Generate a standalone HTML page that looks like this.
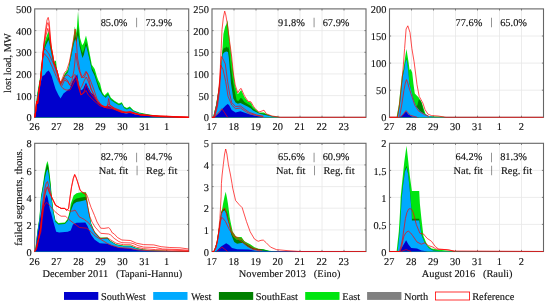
<!DOCTYPE html>
<html lang="en">
<head>
<meta charset="utf-8">
<title>Lost load and failed segments</title>
<style>
html,body{margin:0;padding:0;background:#fff;}
body{width:550px;height:305px;overflow:hidden;}
svg{display:block;}
svg text{text-rendering:geometricPrecision;font-family:"Liberation Serif","Times New Roman",serif;font-size:10.4px;fill:#111;stroke:#111;stroke-width:0.13px;}
</style>
</head>
<body>
<svg width="550" height="305" viewBox="0 0 550 305">
<rect x="0" y="0" width="550" height="305" fill="#ffffff"/>
<g id="plot1">
<path d="M56.7 8.9V117.3M78.7 8.9V117.3M100.7 8.9V117.3M122.7 8.9V117.3M144.7 8.9V117.3M166.7 8.9V117.3M34.7 95.6H188.7M34.7 73.9H188.7M34.7 52.3H188.7M34.7 30.6H188.7" stroke="#e7e7e7" stroke-width="0.8" fill="none"/>
<rect x="34.7" y="8.9" width="154.0" height="108.4" fill="none" stroke="#666666" stroke-width="1.1"/>
<path d="M56.7 117.3v-1.6M56.7 8.9v1.6M78.7 117.3v-1.6M78.7 8.9v1.6M100.7 117.3v-1.6M100.7 8.9v1.6M122.7 117.3v-1.6M122.7 8.9v1.6M144.7 117.3v-1.6M144.7 8.9v1.6M166.7 117.3v-1.6M166.7 8.9v1.6M34.7 95.6h1.6M188.7 95.6h-1.6M34.7 73.9h1.6M188.7 73.9h-1.6M34.7 52.3h1.6M188.7 52.3h-1.6M34.7 30.6h1.6M188.7 30.6h-1.6" stroke="#666666" stroke-width="0.8" fill="none"/>
<polygon points="34.7,117.3 35.5,110.0 37.0,95.0 40.2,76.4 40.9,66.2 42.0,62.0 43.8,45.8 46.0,38.0 48.5,31.0 49.5,36.0 51.1,45.8 54.0,61.8 55.9,60.4 56.9,69.0 60.5,83.0 64.9,73.5 68.1,69.0 70.7,54.5 73.6,38.0 74.8,26.5 76.1,33.0 76.9,28.0 78.0,11.5 79.2,28.0 80.1,38.0 82.2,45.2 83.8,43.0 86.0,35.5 87.5,42.0 89.6,53.0 91.8,64.7 94.7,69.0 96.9,76.4 98.4,80.4 100.0,83.3 102.2,92.0 104.4,95.6 108.0,92.0 110.9,97.8 114.5,100.7 118.9,103.6 121.8,102.2 124.0,106.5 126.9,108.0 129.8,106.5 133.5,110.2 139.3,112.4 146.5,114.1 155.3,115.6 165.5,116.4 180.0,117.0 188.7,117.3 188.7,117.3 34.7,117.3" fill="#00E510"/>
<polygon points="34.7,117.3 35.5,111.2 35.8,108.9 37.0,97.7 37.5,93.9 40.2,78.4 40.5,75.7 40.9,71.0 41.5,66.4 42.0,63.6 43.8,49.6 46.0,42.3 48.5,36.6 49.5,41.0 51.1,49.6 53.5,62.1 54.0,63.5 55.5,64.0 55.9,65.0 56.9,71.2 60.5,84.2 64.9,75.0 68.1,70.9 70.7,57.3 73.6,42.3 74.8,35.0 75.1,34.8 76.1,38.0 76.5,37.6 76.9,35.5 78.0,26.1 79.2,37.8 79.5,40.4 80.1,44.5 82.2,52.6 82.4,53.0 83.8,50.4 86.0,41.7 87.5,47.6 89.6,57.3 91.8,68.0 94.7,73.3 96.9,80.5 98.4,84.8 99.1,86.5 100.0,88.0 102.2,93.5 102.7,94.3 104.4,96.3 105.6,96.5 108.0,93.9 110.9,99.2 114.5,101.8 118.9,104.7 121.8,103.3 124.0,107.4 126.9,108.9 129.8,107.6 133.5,110.9 139.3,113.0 146.5,114.5 155.3,115.8 165.5,116.6 180.0,117.0 188.7,117.3 188.7,117.3 34.7,117.3" fill="#008000"/>
<polygon points="34.7,117.3 35.8,110.0 37.5,95.0 40.5,78.0 41.5,68.0 43.8,52.0 46.0,45.0 48.5,40.0 49.5,44.0 51.1,52.0 53.5,64.0 55.5,66.0 56.9,72.5 60.5,85.0 64.9,76.0 68.1,72.0 70.7,59.0 73.6,45.0 75.1,39.0 76.5,42.0 78.0,35.0 79.5,46.0 82.4,58.0 83.8,55.0 86.0,45.5 87.5,51.0 89.6,60.0 91.8,70.0 94.7,76.0 96.9,83.0 99.1,89.5 102.7,95.2 105.6,97.8 108.0,95.0 110.9,100.0 114.5,102.5 118.9,105.3 121.8,104.0 124.0,108.0 126.9,109.5 129.8,108.2 133.5,111.3 139.3,113.3 146.5,114.8 155.3,116.0 165.5,116.7 188.7,117.3 188.7,117.3 34.7,117.3" fill="#00AAFF"/>
<polygon points="34.7,117.3 35.1,116.7 38.0,94.9 40.2,84.7 42.4,76.0 44.5,75.0 46.5,72.0 48.6,70.5 50.0,72.5 51.8,76.4 53.3,81.8 55.5,89.1 58.4,94.9 60.5,98.5 63.5,93.5 66.4,91.3 70.0,88.4 72.2,81.8 75.1,77.5 77.3,74.2 78.7,84.7 80.9,90.5 83.1,89.1 86.0,82.5 88.2,87.6 91.1,92.7 94.0,94.9 97.6,102.2 100.0,104.0 104.4,107.5 108.7,106.0 114.5,109.5 121.8,112.4 126.2,113.8 130.5,112.4 134.9,114.5 143.6,115.6 158.2,116.7 188.7,117.3 188.7,117.3 34.7,117.3" fill="#0000CD"/>
<polyline points="34.7,117.3 35.6,112.0 36.7,101.0 37.5,104.0 38.8,92.0 40.9,77.0 41.9,66.5 43.6,46.0 45.5,30.0 47.0,20.0 48.2,17.4 49.2,22.0 50.0,32.0 51.1,46.0 52.5,54.0 54.0,62.5 55.2,66.0 57.0,70.5 59.1,79.3 60.5,82.5 62.5,78.0 64.6,72.5 66.6,70.5 69.4,62.0 71.7,50.0 73.9,37.0 75.2,29.0 76.3,40.0 77.5,58.0 80.1,71.6 82.4,77.5 84.2,77.5 86.5,72.1 87.8,74.4 89.6,82.5 91.1,89.1 94.0,95.0 96.9,100.7 100.0,104.5 104.0,107.5 107.5,106.0 108.7,98.5 109.8,105.0 114.5,108.5 121.8,111.5 126.2,113.0 130.5,111.8 134.9,113.8 143.6,115.2 158.2,116.5 188.7,117.3" fill="none" stroke="#FF0000" stroke-width="0.7" stroke-linejoin="round"/>
<polyline points="34.7,117.3 35.6,112.0 36.7,101.0 37.5,104.0 38.8,92.0 40.9,77.0 41.9,66.5 43.7,46.0 45.6,33.0 47.0,25.0 48.0,22.5 49.3,28.0 50.2,38.0 51.2,47.0 52.6,54.5 54.1,63.0 55.3,66.5 57.1,71.0 59.3,80.0 61.0,83.0 64.6,76.2 67.8,74.8 70.5,77.5 72.8,76.6 75.1,74.4 76.5,78.9 77.8,85.0 79.5,90.0 80.9,94.9 83.5,93.5 86.0,90.5 88.2,94.9 94.0,100.7 99.8,105.8 105.6,107.3 108.7,104.0 114.5,109.0 122.0,112.0 130.5,112.2 140.0,114.8 160.0,116.6 188.7,117.3" fill="none" stroke="#FF0000" stroke-width="0.7" stroke-linejoin="round"/>
<polyline points="34.7,117.3 35.6,112.0 36.7,101.0 37.5,104.0 38.8,92.0 40.9,77.0 41.9,66.5 43.8,46.5 45.8,36.0 47.8,28.3 49.4,34.0 50.4,42.0 51.3,48.0 52.7,55.0 54.2,63.5 55.4,67.0 57.2,71.5 59.5,80.7 61.5,83.5 64.6,78.0 67.8,80.7 69.6,85.0 72.0,80.0 74.0,70.0 75.8,53.1 76.8,60.0 77.3,63.3 78.7,69.1 81.6,77.8 84.0,75.0 86.0,71.3 88.2,74.9 91.1,82.2 94.0,90.0 97.0,99.0 101.3,105.1 106.0,107.0 110.0,106.0 118.0,109.5 126.0,112.5 130.0,111.5 140.0,114.5 160.0,116.5 188.7,117.3" fill="none" stroke="#FF0000" stroke-width="0.7" stroke-linejoin="round"/>
<polyline points="34.7,117.3 35.6,112.0 36.7,101.0 37.5,104.0 38.8,92.0 40.9,77.0 41.9,66.5 42.8,54.0 44.0,48.0 46.0,50.0 48.9,53.8 53.3,63.3 56.9,73.5 60.5,84.0 62.0,85.5 64.6,80.0 68.0,82.0 70.5,86.0 73.0,81.0 75.5,76.0 77.5,80.0 79.5,90.0 82.0,86.0 84.5,80.0 86.3,77.0 88.5,82.0 91.5,90.0 95.0,97.0 98.0,102.5 102.0,106.0 106.0,107.6 112.0,108.0 122.0,112.3 130.0,112.3 140.0,114.8 188.7,117.3" fill="none" stroke="#FF0000" stroke-width="0.7" stroke-linejoin="round"/>
<polyline points="34.7,117.3 35.6,112.0 36.7,101.0 37.5,104.0 38.8,92.0 40.9,77.0 41.9,66.5 42.6,58.0 44.2,53.5 48.2,58.2 52.5,67.6 56.2,76.4 61.0,86.0 63.0,88.5 66.0,90.0 70.0,90.0 73.0,84.5 75.0,80.5 77.0,78.5 78.7,84.7 80.9,94.9 84.0,92.0 86.0,84.7 89.6,92.0 95.5,99.3 101.3,105.1 106.0,107.8 112.0,108.6 122.0,112.6 130.0,112.6 140.0,115.0 188.7,117.3" fill="none" stroke="#FF0000" stroke-width="0.7" stroke-linejoin="round"/>
<text x="31.6" y="121.4" text-anchor="end">0</text>
<text x="31.6" y="99.7" text-anchor="end">100</text>
<text x="31.6" y="78.0" text-anchor="end">200</text>
<text x="31.6" y="56.4" text-anchor="end">300</text>
<text x="31.6" y="34.7" text-anchor="end">400</text>
<text x="31.6" y="13.0" text-anchor="end">500</text>
<text x="34.5" y="130.4" text-anchor="middle">26</text>
<text x="56.5" y="130.4" text-anchor="middle">27</text>
<text x="78.5" y="130.4" text-anchor="middle">28</text>
<text x="100.5" y="130.4" text-anchor="middle">29</text>
<text x="122.5" y="130.4" text-anchor="middle">30</text>
<text x="144.5" y="130.4" text-anchor="middle">31</text>
<text x="166.5" y="130.4" text-anchor="middle">1</text>
<text x="114.1" y="25.6" text-anchor="middle">85.0%</text>
<text x="136.7" y="25.1" text-anchor="middle" style="fill:#333;stroke:none">|</text>
<text x="158.8" y="25.6" text-anchor="middle">73.9%</text>
</g>
<g id="plot2">
<path d="M234.0 8.9V117.3M256.0 8.9V117.3M278.0 8.9V117.3M300.0 8.9V117.3M322.0 8.9V117.3M344.0 8.9V117.3M212.0 95.6H366.0M212.0 73.9H366.0M212.0 52.3H366.0M212.0 30.6H366.0" stroke="#e7e7e7" stroke-width="0.8" fill="none"/>
<rect x="212.0" y="8.9" width="154.0" height="108.4" fill="none" stroke="#666666" stroke-width="1.1"/>
<path d="M234.0 117.3v-1.6M234.0 8.9v1.6M256.0 117.3v-1.6M256.0 8.9v1.6M278.0 117.3v-1.6M278.0 8.9v1.6M300.0 117.3v-1.6M300.0 8.9v1.6M322.0 117.3v-1.6M322.0 8.9v1.6M344.0 117.3v-1.6M344.0 8.9v1.6M212.0 95.6h1.6M366.0 95.6h-1.6M212.0 73.9h1.6M366.0 73.9h-1.6M212.0 52.3h1.6M366.0 52.3h-1.6M212.0 30.6h1.6M366.0 30.6h-1.6" stroke="#666666" stroke-width="0.8" fill="none"/>
<polygon points="212.0,117.3 213.1,117.3 216.0,105.1 218.4,90.5 220.3,76.4 221.6,58.9 222.7,45.0 223.4,34.1 225.1,26.7 226.5,24.0 227.5,20.3 228.7,31.2 230.2,45.7 232.0,61.8 234.0,77.8 235.2,86.2 237.8,94.2 241.2,90.0 244.4,97.0 248.0,101.8 250.9,102.4 253.0,106.8 259.0,112.4 264.0,112.6 266.2,114.0 272.0,116.0 280.7,117.2 366.0,117.3 366.0,117.3 212.0,117.3" fill="#00E510"/>
<polygon points="212.0,117.3 213.2,117.3 216.1,105.3 218.5,90.8 220.4,76.8 221.7,59.5 222.7,50.5 224.0,47.5 225.0,48.5 226.2,46.5 227.2,48.0 228.2,46.5 229.2,50.0 230.3,62.5 232.4,78.0 234.9,92.0 236.7,100.5 238.5,101.0 240.5,98.0 242.0,98.5 244.4,102.0 248.0,104.3 250.9,106.0 253.0,108.7 259.0,113.0 264.0,113.8 272.0,116.3 280.7,117.2 366.0,117.3 366.0,117.3 212.0,117.3" fill="#008000"/>
<polygon points="212.0,117.3 213.3,117.3 216.2,105.5 218.6,91.0 220.5,77.0 221.8,60.0 222.8,54.0 224.5,52.3 226.2,51.5 228.0,52.0 228.8,57.5 230.2,73.5 231.0,83.6 233.3,98.5 235.6,102.5 237.8,103.7 240.5,103.0 244.4,105.0 248.0,106.8 250.9,108.5 253.0,110.5 259.0,113.6 264.0,114.8 272.0,116.6 280.7,117.3 366.0,117.3 366.0,117.3 212.0,117.3" fill="#00AAFF"/>
<polygon points="212.0,117.3 214.0,117.3 216.7,115.3 219.6,112.4 222.5,108.7 225.5,105.8 227.6,104.0 229.0,105.0 231.7,110.0 235.5,112.6 240.5,111.2 244.2,112.6 249.2,114.3 256.7,116.1 263.3,117.3 366.0,117.3 366.0,117.3 212.0,117.3" fill="#0000CD"/>
<polyline points="212.0,117.3 213.8,117.3 216.8,104.5 218.8,90.0 220.1,75.0 220.6,60.0 221.2,48.6 222.0,29.7 223.3,18.0 224.7,11.1 225.8,15.0 227.1,22.5 229.6,41.4 231.6,56.0 233.3,73.0 235.2,85.0 237.8,92.8 240.0,89.0 241.2,88.5 244.4,95.8 248.0,101.3 250.9,101.8 254.5,108.0 258.9,112.0 262.0,111.0 264.0,110.2 266.2,113.8 272.0,116.0 280.7,117.3 366.0,117.3" fill="none" stroke="#FF0000" stroke-width="0.7" stroke-linejoin="round"/>
<polyline points="212.0,117.3 214.2,117.3 217.2,104.0 219.4,85.0 220.6,66.0 221.4,56.5 223.5,60.0 225.3,64.0 227.6,81.5 229.5,93.0 231.7,102.5 235.5,106.5 240.5,106.0 244.2,108.8 249.2,112.3 256.7,115.0 263.3,116.3" fill="none" stroke="#FF0000" stroke-width="0.7" stroke-linejoin="round"/>
<polyline points="212.0,117.3 214.6,117.3 217.5,106.0 219.6,90.0 220.4,75.0 220.8,65.2 223.0,69.5 225.7,81.5 228.0,96.2 231.7,105.0 235.5,108.7 240.5,108.0 244.2,110.5 249.2,113.6 256.7,115.5 263.3,116.7" fill="none" stroke="#FF0000" stroke-width="0.7" stroke-linejoin="round"/>
<polyline points="214.0,117.3 216.7,115.0 219.5,111.5 221.8,108.7 224.5,112.5 227.6,117.3" fill="none" stroke="#FF0000" stroke-width="0.7" stroke-linejoin="round"/>
<text x="208.9" y="121.4" text-anchor="end">0</text>
<text x="208.9" y="99.7" text-anchor="end">50</text>
<text x="208.9" y="78.0" text-anchor="end">100</text>
<text x="208.9" y="56.4" text-anchor="end">150</text>
<text x="208.9" y="34.7" text-anchor="end">200</text>
<text x="208.9" y="13.0" text-anchor="end">250</text>
<text x="211.8" y="130.4" text-anchor="middle">17</text>
<text x="233.8" y="130.4" text-anchor="middle">18</text>
<text x="255.8" y="130.4" text-anchor="middle">19</text>
<text x="277.8" y="130.4" text-anchor="middle">20</text>
<text x="299.8" y="130.4" text-anchor="middle">21</text>
<text x="321.8" y="130.4" text-anchor="middle">22</text>
<text x="343.8" y="130.4" text-anchor="middle">23</text>
<text x="291.4" y="25.6" text-anchor="middle">91.8%</text>
<text x="314.0" y="25.1" text-anchor="middle" style="fill:#333;stroke:none">|</text>
<text x="336.1" y="25.6" text-anchor="middle">67.9%</text>
</g>
<g id="plot3">
<path d="M411.5 8.9V117.3M433.5 8.9V117.3M455.5 8.9V117.3M477.5 8.9V117.3M499.5 8.9V117.3M521.5 8.9V117.3M389.5 90.2H543.5M389.5 63.1H543.5M389.5 36.0H543.5" stroke="#e7e7e7" stroke-width="0.8" fill="none"/>
<rect x="389.5" y="8.9" width="154.0" height="108.4" fill="none" stroke="#666666" stroke-width="1.1"/>
<path d="M411.5 117.3v-1.6M411.5 8.9v1.6M433.5 117.3v-1.6M433.5 8.9v1.6M455.5 117.3v-1.6M455.5 8.9v1.6M477.5 117.3v-1.6M477.5 8.9v1.6M499.5 117.3v-1.6M499.5 8.9v1.6M521.5 117.3v-1.6M521.5 8.9v1.6M389.5 90.2h1.6M543.5 90.2h-1.6M389.5 63.1h1.6M543.5 63.1h-1.6M389.5 36.0h1.6M543.5 36.0h-1.6" stroke="#666666" stroke-width="0.8" fill="none"/>
<polygon points="389.5,117.3 396.6,117.3 398.8,105.1 400.3,90.5 401.8,76.0 403.4,69.1 405.0,58.0 406.5,49.0 407.4,55.0 408.3,60.4 409.6,70.0 410.6,69.0 412.2,72.5 413.4,83.6 414.8,93.5 418.7,97.4 421.7,102.4 423.6,108.3 425.6,114.2 428.6,116.2 434.5,116.5 443.2,116.8 446.0,117.3 543.5,117.3 543.5,117.3 389.5,117.3" fill="#00E510"/>
<polygon points="389.5,117.3 397.5,117.3 399.6,105.3 401.1,91.0 402.6,76.5 404.0,69.8 405.3,62.5 406.5,58.0 407.4,63.0 408.3,71.3 409.3,82.5 410.5,87.3 413.4,99.0 416.3,106.2 417.5,105.0 418.7,99.5 420.5,100.5 421.7,103.5 423.0,108.5 424.3,113.5 428.6,116.0 434.5,117.0 543.5,117.3 543.5,117.3 389.5,117.3" fill="#008000"/>
<polygon points="389.5,117.3 397.6,117.3 399.7,105.5 401.2,91.2 402.7,77.0 404.1,70.5 405.3,63.0 406.5,58.9 407.4,64.0 408.3,72.0 409.4,83.6 410.5,87.6 413.4,99.3 416.3,106.5 419.9,110.9 424.3,113.8 428.6,116.0 434.5,117.0 543.5,117.3 543.5,117.3 389.5,117.3" fill="#00AAFF"/>
<polygon points="389.5,117.3 399.5,117.3 403.2,114.5 406.1,111.6 408.3,114.5 411.9,116.4 420.0,117.3 543.5,117.3 543.5,117.3 389.5,117.3" fill="#0000CD"/>
<polyline points="389.5,117.3 397.4,117.3 399.5,104.5 401.0,90.0 402.5,75.0 403.6,62.0 404.6,48.6 406.1,29.0 407.8,25.8 410.0,32.6 411.9,48.6 414.1,61.8 417.0,84.7 419.2,96.4 422.8,102.9 425.0,109.5 427.9,114.1 431.5,115.6 438.0,116.0 446.0,117.3 543.5,117.3" fill="none" stroke="#FF0000" stroke-width="0.7" stroke-linejoin="round"/>
<polyline points="389.5,117.3 399.5,117.3 401.7,105.1 403.9,90.5 405.3,83.0 406.5,79.6 407.8,83.0 409.0,87.6 411.9,96.4 414.8,105.1 418.5,110.9 424.3,114.5 429.0,116.5" fill="none" stroke="#FF0000" stroke-width="0.7" stroke-linejoin="round"/>
<polyline points="401.0,117.3 403.5,114.0 406.1,110.6 408.3,113.3 410.5,115.3 417.0,117.3" fill="none" stroke="#FF0000" stroke-width="0.7" stroke-linejoin="round"/>
<text x="386.4" y="121.4" text-anchor="end">0</text>
<text x="386.4" y="94.3" text-anchor="end">50</text>
<text x="386.4" y="67.2" text-anchor="end">100</text>
<text x="386.4" y="40.1" text-anchor="end">150</text>
<text x="386.4" y="13.0" text-anchor="end">200</text>
<text x="389.3" y="130.4" text-anchor="middle">27</text>
<text x="411.3" y="130.4" text-anchor="middle">28</text>
<text x="433.3" y="130.4" text-anchor="middle">29</text>
<text x="455.3" y="130.4" text-anchor="middle">30</text>
<text x="477.3" y="130.4" text-anchor="middle">31</text>
<text x="499.3" y="130.4" text-anchor="middle">1</text>
<text x="521.3" y="130.4" text-anchor="middle">2</text>
<text x="468.9" y="25.6" text-anchor="middle">77.6%</text>
<text x="491.5" y="25.1" text-anchor="middle" style="fill:#333;stroke:none">|</text>
<text x="513.6" y="25.6" text-anchor="middle">65.0%</text>
</g>
<g id="plot4">
<path d="M56.7 143.3V251.5M78.7 143.3V251.5M100.7 143.3V251.5M122.7 143.3V251.5M144.7 143.3V251.5M166.7 143.3V251.5M34.7 224.4H188.7M34.7 197.4H188.7M34.7 170.4H188.7" stroke="#e7e7e7" stroke-width="0.8" fill="none"/>
<rect x="34.7" y="143.3" width="154.0" height="108.2" fill="none" stroke="#666666" stroke-width="1.1"/>
<path d="M56.7 251.5v-1.6M56.7 143.3v1.6M78.7 251.5v-1.6M78.7 143.3v1.6M100.7 251.5v-1.6M100.7 143.3v1.6M122.7 251.5v-1.6M122.7 143.3v1.6M144.7 251.5v-1.6M144.7 143.3v1.6M166.7 251.5v-1.6M166.7 143.3v1.6M34.7 224.4h1.6M188.7 224.4h-1.6M34.7 197.4h1.6M188.7 197.4h-1.6M34.7 170.4h1.6M188.7 170.4h-1.6" stroke="#666666" stroke-width="0.8" fill="none"/>
<polygon points="34.7,251.5 35.1,251.5 37.3,231.8 39.5,217.3 40.9,196.8 43.1,183.6 44.5,173.5 46.3,164.5 47.5,161.1 48.5,165.0 49.6,173.5 50.7,183.6 51.8,196.8 53.3,210.0 55.5,220.2 58.4,223.1 64.9,222.4 67.8,218.7 70.0,210.0 70.7,204.1 73.6,195.4 76.5,193.2 80.9,192.2 86.0,192.2 86.7,196.8 88.2,207.0 89.5,214.0 91.1,223.1 94.7,231.8 99.8,237.6 107.3,237.6 110.2,240.5 116.0,244.2 123.3,245.6 130.5,245.6 136.4,248.1 143.6,249.6 155.3,250.4 180.0,251.3 188.7,251.5 188.7,251.5 34.7,251.5" fill="#00E510"/>
<polygon points="34.7,251.5 35.2,251.5 37.4,232.0 39.6,217.6 41.0,197.5 43.2,185.0 44.6,176.0 46.3,167.5 47.5,164.0 48.5,168.0 49.5,176.0 50.6,185.5 51.7,198.5 53.2,211.0 55.4,221.0 58.4,224.0 64.9,223.3 67.8,219.8 70.0,212.0 70.9,207.0 73.6,200.5 76.5,198.5 80.9,197.5 86.0,196.8 86.9,200.0 88.2,209.0 89.5,215.5 91.1,224.0 94.7,232.3 99.8,238.0 107.3,238.0 110.2,240.9 116.0,244.5 123.3,245.9 130.5,245.9 136.4,248.3 143.6,249.8 155.3,250.6 188.7,251.5 188.7,251.5 34.7,251.5" fill="#008000"/>
<polygon points="34.7,251.5 35.3,251.5 37.5,232.3 39.7,218.0 41.1,198.5 43.3,187.0 44.7,179.0 46.3,172.0 47.5,169.1 48.5,173.0 49.4,180.0 50.5,188.0 51.6,200.0 53.1,212.0 55.3,221.8 58.4,224.6 64.9,224.0 67.8,220.8 70.0,214.0 71.2,210.0 73.6,204.0 76.5,202.0 80.9,201.2 86.0,200.0 87.1,203.0 88.2,210.5 89.5,217.0 91.1,224.8 94.7,232.8 99.8,238.4 107.3,238.4 110.2,241.3 116.0,244.8 123.3,246.2 130.5,246.2 136.4,248.5 143.6,250.0 155.3,250.8 188.7,251.5 188.7,251.5 34.7,251.5" fill="#00AAFF"/>
<polygon points="34.7,251.5 35.5,251.5 37.8,233.0 40.0,219.0 41.5,211.0 42.4,206.0 43.8,204.1 45.3,198.0 46.7,194.6 47.8,198.0 48.9,204.1 50.0,210.0 51.1,213.0 53.3,221.6 56.2,231.8 59.1,232.5 67.8,231.8 70.7,230.4 72.9,224.5 76.5,222.8 85.3,222.4 87.5,226.0 91.1,234.7 94.7,239.8 99.8,243.2 107.3,243.7 111.6,245.6 118.9,247.8 129.1,248.5 136.4,250.0 150.9,251.0 188.7,251.5 188.7,251.5 34.7,251.5" fill="#0000CD"/>
<polyline points="34.7,251.5 36.0,249.0 38.6,238.5 40.7,228.0 42.5,205.0 44.5,190.0 46.3,183.0 47.5,181.5 49.6,189.5 51.8,197.5 55.6,205.3 61.1,208.4 64.5,208.4 66.5,210.2 68.5,208.5 70.0,197.0 71.5,186.6 73.3,178.0 74.7,174.2 76.0,177.0 77.3,180.8 80.2,190.3 83.0,192.5 86.0,193.6 87.5,196.5 89.0,201.5 91.1,207.5 94.5,215.5 97.0,222.0 100.7,228.2 104.0,228.4 108.7,227.7 109.8,228.6 112.4,233.0 114.1,233.8 117.5,237.5 121.9,240.0 130.5,240.5 136.4,243.2 143.6,244.6 153.8,244.9 161.1,246.7 169.8,247.5 180.0,247.8 188.7,249.0" fill="none" stroke="#FF0000" stroke-width="0.7" stroke-linejoin="round"/>
<polyline points="34.7,251.5 36.0,249.0 38.6,238.5 40.7,228.0 42.8,208.0 44.8,194.0 46.3,188.5 47.5,186.6 49.3,192.0 51.8,197.5 55.6,205.3 61.1,208.4 64.5,208.4 66.5,210.4 68.6,208.8 70.1,197.3 71.6,187.0 73.4,178.6 74.7,175.0 76.0,177.6 77.3,181.2 80.2,190.6 83.0,193.0 85.6,194.5 86.7,201.0 88.0,208.0 89.6,216.0 92.0,222.0 95.1,227.1 100.7,233.3 108.7,234.0 110.5,234.8 114.1,238.3 118.9,241.6 121.9,242.7 130.5,242.9 134.0,243.8 137.8,245.6 143.6,247.1 155.3,247.5 162.5,249.0 180.0,249.6 188.7,250.3" fill="none" stroke="#FF0000" stroke-width="0.7" stroke-linejoin="round"/>
<polyline points="34.7,251.5 36.0,249.0 38.6,238.5 40.7,228.0 42.9,209.0 44.9,195.0 46.4,189.3 47.6,187.4 49.4,192.6 51.8,197.5 55.6,205.3 61.1,208.4 64.5,208.4 67.0,209.6 70.0,211.2 73.0,211.0 75.0,210.0 77.0,213.0 79.0,216.7 84.0,219.3 88.5,222.7 91.5,227.0 95.1,232.7 100.7,238.6 107.4,237.8 110.2,239.6 116.0,243.2 123.3,244.7 130.5,244.7 136.4,247.2 143.6,248.7 155.3,249.6 180.0,250.5 188.7,250.8" fill="none" stroke="#FF0000" stroke-width="0.7" stroke-linejoin="round"/>
<polyline points="34.7,251.5 36.5,249.5 38.7,239.1 40.9,231.8 42.4,217.3 43.8,207.0 45.3,203.5 46.7,202.6 48.5,204.0 50.4,206.3 54.7,211.4 59.1,215.0 61.1,216.2 65.6,216.2 68.9,219.5 73.6,223.1 79.5,227.5 86.7,228.2 91.1,231.8 95.1,236.0 100.7,239.4 107.3,243.4 111.6,245.3 118.9,247.5 129.1,248.2 136.4,249.7 150.9,250.8 188.7,251.5" fill="none" stroke="#FF0000" stroke-width="0.7" stroke-linejoin="round"/>
<text x="31.6" y="255.6" text-anchor="end">0</text>
<text x="31.6" y="228.5" text-anchor="end">2</text>
<text x="31.6" y="201.5" text-anchor="end">4</text>
<text x="31.6" y="174.5" text-anchor="end">6</text>
<text x="31.6" y="147.4" text-anchor="end">8</text>
<text x="34.5" y="264.6" text-anchor="middle">26</text>
<text x="56.5" y="264.6" text-anchor="middle">27</text>
<text x="78.5" y="264.6" text-anchor="middle">28</text>
<text x="100.5" y="264.6" text-anchor="middle">29</text>
<text x="122.5" y="264.6" text-anchor="middle">30</text>
<text x="144.5" y="264.6" text-anchor="middle">31</text>
<text x="166.5" y="264.6" text-anchor="middle">1</text>
<text x="114.1" y="160.0" text-anchor="middle">82.7%</text>
<text x="136.7" y="159.5" text-anchor="middle" style="fill:#333;stroke:none">|</text>
<text x="158.8" y="160.0" text-anchor="middle">84.7%</text>
<text x="113.5" y="173.6" text-anchor="middle">Nat. fit</text>
<text x="137.0" y="173.1" text-anchor="middle" style="fill:#333;stroke:none">|</text>
<text x="161.7" y="173.6" text-anchor="middle">Reg. fit</text>
<text x="112.3" y="277.2" text-anchor="middle" xml:space="preserve">December 2011   (Tapani-Hannu)</text>
</g>
<g id="plot5">
<path d="M234.0 143.3V251.5M256.0 143.3V251.5M278.0 143.3V251.5M300.0 143.3V251.5M322.0 143.3V251.5M344.0 143.3V251.5M212.0 229.9H366.0M212.0 208.2H366.0M212.0 186.6H366.0M212.0 164.9H366.0" stroke="#e7e7e7" stroke-width="0.8" fill="none"/>
<rect x="212.0" y="143.3" width="154.0" height="108.2" fill="none" stroke="#666666" stroke-width="1.1"/>
<path d="M234.0 251.5v-1.6M234.0 143.3v1.6M256.0 251.5v-1.6M256.0 143.3v1.6M278.0 251.5v-1.6M278.0 143.3v1.6M300.0 251.5v-1.6M300.0 143.3v1.6M322.0 251.5v-1.6M322.0 143.3v1.6M344.0 251.5v-1.6M344.0 143.3v1.6M212.0 229.9h1.6M366.0 229.9h-1.6M212.0 208.2h1.6M366.0 208.2h-1.6M212.0 186.6h1.6M366.0 186.6h-1.6M212.0 164.9h1.6M366.0 164.9h-1.6" stroke="#666666" stroke-width="0.8" fill="none"/>
<polygon points="212.0,251.5 213.8,251.5 216.7,242.0 218.9,227.5 221.1,212.0 222.2,209.0 223.0,204.1 224.4,197.0 225.7,191.7 227.0,198.0 228.0,204.1 229.7,217.0 230.5,221.6 232.7,231.8 236.4,236.9 241.5,236.9 244.4,241.3 250.2,244.3 254.5,247.3 258.5,248.7 263.3,249.2 269.1,250.7 277.8,251.5 366.0,251.5 366.0,251.5 212.0,251.5" fill="#00E510"/>
<polygon points="212.0,251.5 213.9,251.5 216.8,242.2 219.0,227.8 221.2,212.5 223.0,209.5 224.7,208.5 226.3,211.0 227.6,214.0 229.0,222.0 230.5,230.0 232.7,236.0 236.4,239.8 241.5,240.3 244.4,243.0 250.2,246.4 254.5,248.8 263.3,249.6 269.1,251.0 277.8,251.5 366.0,251.5 366.0,251.5 212.0,251.5" fill="#008000"/>
<polygon points="212.0,251.5 214.0,251.5 216.9,242.4 219.1,228.2 221.3,213.5 223.0,211.3 224.7,210.6 226.3,213.5 227.6,218.7 229.1,224.5 231.3,234.7 234.2,242.0 237.1,243.7 242.9,242.7 247.3,246.4 253.1,249.3 263.3,250.8 277.8,251.5 366.0,251.5 366.0,251.5 212.0,251.5" fill="#00AAFF"/>
<polygon points="212.0,251.5 214.5,251.5 216.7,250.7 221.1,246.4 226.2,243.2 229.1,244.9 232.0,248.1 237.1,249.3 248.7,249.6 256.0,251.0 366.0,251.5 366.0,251.5 212.0,251.5" fill="#0000CD"/>
<polyline points="212.0,251.5 213.5,251.5 216.0,247.0 218.0,238.0 219.9,218.6 221.1,196.8 221.4,183.6 222.1,175.0 223.3,164.7 224.6,154.0 225.7,149.0 226.9,154.0 228.4,164.7 230.5,175.0 232.0,183.6 232.7,188.1 235.6,200.5 239.3,204.8 242.2,207.7 242.9,210.0 246.5,221.6 250.2,231.8 254.5,239.1 258.2,241.3 261.0,240.3 263.3,240.1 266.2,242.7 270.5,247.1 276.4,249.6 288.0,250.7 300.0,251.5 366.0,251.5" fill="none" stroke="#FF0000" stroke-width="0.7" stroke-linejoin="round"/>
<polyline points="212.0,251.5 213.8,251.5 216.0,247.8 218.9,231.8 220.5,221.0 221.8,217.3 223.5,219.0 225.5,221.6 229.8,230.4 234.2,236.9 240.0,240.5 245.8,244.9 251.6,249.0 260.0,251.0" fill="none" stroke="#FF0000" stroke-width="0.7" stroke-linejoin="round"/>
<polyline points="212.0,251.5 214.0,251.5 217.0,243.0 219.5,228.0 221.5,214.0 223.0,209.5 224.7,208.0 226.0,212.0 227.6,218.7 231.3,230.4 234.9,236.2 241.5,239.1 247.3,244.2 253.1,248.1 262.0,250.5" fill="none" stroke="#FF0000" stroke-width="0.7" stroke-linejoin="round"/>
<polyline points="216.7,251.5 219.5,249.0 221.8,247.1 224.5,249.0 227.6,251.5" fill="none" stroke="#FF0000" stroke-width="0.7" stroke-linejoin="round"/>
<text x="208.9" y="255.6" text-anchor="end">0</text>
<text x="208.9" y="234.0" text-anchor="end">1</text>
<text x="208.9" y="212.3" text-anchor="end">2</text>
<text x="208.9" y="190.7" text-anchor="end">3</text>
<text x="208.9" y="169.0" text-anchor="end">4</text>
<text x="208.9" y="147.4" text-anchor="end">5</text>
<text x="211.8" y="264.6" text-anchor="middle">17</text>
<text x="233.8" y="264.6" text-anchor="middle">18</text>
<text x="255.8" y="264.6" text-anchor="middle">19</text>
<text x="277.8" y="264.6" text-anchor="middle">20</text>
<text x="299.8" y="264.6" text-anchor="middle">21</text>
<text x="321.8" y="264.6" text-anchor="middle">22</text>
<text x="343.8" y="264.6" text-anchor="middle">23</text>
<text x="291.4" y="160.0" text-anchor="middle">65.6%</text>
<text x="314.0" y="159.5" text-anchor="middle" style="fill:#333;stroke:none">|</text>
<text x="336.1" y="160.0" text-anchor="middle">60.9%</text>
<text x="290.8" y="173.6" text-anchor="middle">Nat. fit</text>
<text x="314.3" y="173.1" text-anchor="middle" style="fill:#333;stroke:none">|</text>
<text x="339.0" y="173.6" text-anchor="middle">Reg. fit</text>
<text x="289.6" y="277.2" text-anchor="middle" xml:space="preserve">November 2013   (Eino)</text>
</g>
<g id="plot6">
<path d="M411.5 143.3V251.5M433.5 143.3V251.5M455.5 143.3V251.5M477.5 143.3V251.5M499.5 143.3V251.5M521.5 143.3V251.5M389.5 224.4H543.5M389.5 197.4H543.5M389.5 170.4H543.5" stroke="#e7e7e7" stroke-width="0.8" fill="none"/>
<rect x="389.5" y="143.3" width="154.0" height="108.2" fill="none" stroke="#666666" stroke-width="1.1"/>
<path d="M411.5 251.5v-1.6M411.5 143.3v1.6M433.5 251.5v-1.6M433.5 143.3v1.6M455.5 251.5v-1.6M455.5 143.3v1.6M477.5 251.5v-1.6M477.5 143.3v1.6M499.5 251.5v-1.6M499.5 143.3v1.6M521.5 251.5v-1.6M521.5 143.3v1.6M389.5 224.4h1.6M543.5 224.4h-1.6M389.5 197.4h1.6M543.5 197.4h-1.6M389.5 170.4h1.6M543.5 170.4h-1.6" stroke="#666666" stroke-width="0.8" fill="none"/>
<polygon points="389.5,251.5 396.6,251.5 398.8,231.8 400.0,212.0 400.7,196.8 402.0,183.6 404.3,161.8 406.5,145.8 408.3,161.8 409.7,175.0 411.9,191.0 419.2,191.0 419.9,204.0 421.4,218.6 422.1,224.5 423.5,236.2 427.2,244.9 431.5,248.5 437.4,249.6 450.0,251.0 460.0,251.5 543.5,251.5 543.5,251.5 389.5,251.5" fill="#00E510"/>
<polygon points="389.5,251.5 397.5,251.5 399.6,232.0 400.8,212.3 401.5,197.5 402.8,185.0 404.8,170.0 406.5,165.8 408.2,172.0 409.7,187.5 411.5,208.0 411.9,218.7 419.2,218.7 419.9,223.5 421.4,233.5 424.3,241.5 428.6,247.7 433.0,250.1 440.0,251.2 543.5,251.5 543.5,251.5 389.5,251.5" fill="#008000"/>
<polygon points="389.5,251.5 397.6,251.5 399.7,232.3 400.9,212.8 401.7,198.5 403.0,186.0 404.9,172.0 406.5,167.6 408.1,174.0 409.7,189.5 411.5,210.0 411.9,220.5 419.2,220.5 419.9,224.5 421.4,234.7 424.3,242.0 428.6,248.1 433.0,250.4 440.0,251.3 543.5,251.5 543.5,251.5 389.5,251.5" fill="#00AAFF"/>
<polygon points="389.5,251.5 399.5,251.5 402.5,246.4 406.1,240.3 408.3,244.2 411.2,248.1 417.0,248.5 421.4,250.4 428.0,251.5 543.5,251.5 543.5,251.5 389.5,251.5" fill="#0000CD"/>
<polyline points="389.5,251.5 399.5,251.5 401.0,246.0 402.5,239.0 405.4,218.6 406.8,212.8 408.5,209.3 410.0,208.5 411.7,209.6 413.4,212.8 414.8,218.6 416.3,224.5 419.9,233.3 423.5,234.0 427.2,238.4 431.5,241.3 435.2,246.4 438.8,249.3 446.0,249.6 454.8,251.0 543.5,251.5" fill="none" stroke="#FF0000" stroke-width="0.7" stroke-linejoin="round"/>
<polyline points="389.5,251.5 400.2,251.5 401.7,246.4 403.9,236.2 406.0,232.5 408.3,231.1 410.5,232.8 412.6,235.5 417.0,242.0 421.4,244.2 425.0,242.7 428.6,245.6 433.0,247.1 435.9,249.0 443.0,249.4 449.0,250.0 454.8,251.5" fill="none" stroke="#FF0000" stroke-width="0.7" stroke-linejoin="round"/>
<polyline points="401.0,251.5 403.5,250.5 406.1,249.6 408.5,250.5 411.2,251.5" fill="none" stroke="#FF0000" stroke-width="0.7" stroke-linejoin="round"/>
<text x="386.4" y="255.6" text-anchor="end">0</text>
<text x="386.4" y="228.5" text-anchor="end">0.5</text>
<text x="386.4" y="201.5" text-anchor="end">1</text>
<text x="386.4" y="174.5" text-anchor="end">1.5</text>
<text x="386.4" y="147.4" text-anchor="end">2</text>
<text x="389.3" y="264.6" text-anchor="middle">27</text>
<text x="411.3" y="264.6" text-anchor="middle">28</text>
<text x="433.3" y="264.6" text-anchor="middle">29</text>
<text x="455.3" y="264.6" text-anchor="middle">30</text>
<text x="477.3" y="264.6" text-anchor="middle">31</text>
<text x="499.3" y="264.6" text-anchor="middle">1</text>
<text x="521.3" y="264.6" text-anchor="middle">2</text>
<text x="468.9" y="160.0" text-anchor="middle">64.2%</text>
<text x="491.5" y="159.5" text-anchor="middle" style="fill:#333;stroke:none">|</text>
<text x="513.6" y="160.0" text-anchor="middle">81.3%</text>
<text x="468.3" y="173.6" text-anchor="middle">Nat. fit</text>
<text x="491.8" y="173.1" text-anchor="middle" style="fill:#333;stroke:none">|</text>
<text x="516.5" y="173.6" text-anchor="middle">Reg. fit</text>
<text x="467.1" y="277.2" text-anchor="middle" xml:space="preserve">August 2016   (Rauli)</text>
</g>
<text transform="translate(11.2,63.1) rotate(-90)" text-anchor="middle">lost load, MW</text>
<text transform="translate(21.7,197.2) rotate(-90)" text-anchor="middle" style="font-size:10.6px">failed segments, thous.</text>
<g id="legend">
<rect x="64.0" y="292" width="34.3" height="7.9" fill="#0000CD"/>
<text x="100.9" y="299.6">SouthWest</text>
<rect x="153.2" y="292" width="34.3" height="7.9" fill="#00AAFF"/>
<text x="190.9" y="299.6">West</text>
<rect x="218.9" y="292" width="34.3" height="7.9" fill="#008000"/>
<text x="255.8" y="299.6">SouthEast</text>
<rect x="305.2" y="292" width="34.3" height="7.9" fill="#00E510"/>
<text x="342.3" y="299.6">East</text>
<rect x="367.1" y="292" width="34.3" height="7.9" fill="#808080"/>
<text x="403.9" y="299.6">North</text>
<rect x="435.4" y="292" width="34.2" height="8" fill="#fff" stroke="#FF0000" stroke-width="0.8"/>
<text x="472.2" y="299.6">Reference</text>
</g>
</svg>
</body>
</html>
